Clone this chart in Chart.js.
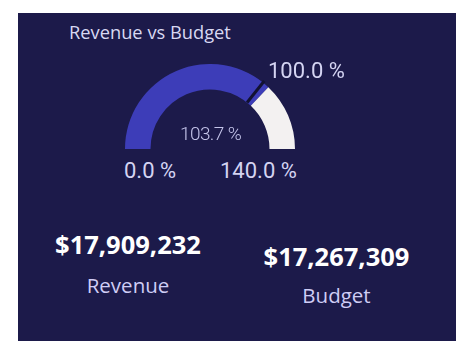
<!DOCTYPE html>
<html>
<head>
<meta charset="utf-8">
<script src="https://cdn.jsdelivr.net/npm/chart.js@4"></script>
<style>
  html, body { margin:0; padding:0; background:#ffffff; width:474px; height:355px; overflow:hidden; }
  #panel { position:absolute; left:18px; top:13px; width:438px; height:328px; background:#1c1a4a; }
  .t { position:absolute; white-space:nowrap; line-height:1; }
  #title { left:69px; top:23px; font-family:"Open Sans", sans-serif; font-size:18.3px; color:#d8d8f2; }
  .glab { font-family:Roboto, sans-serif; font-size:22px; color:#d4d4f2; }
  #gval { font-family:Roboto, sans-serif; font-weight:300; font-size:19px; color:#c4c4ea; letter-spacing:-0.6px; }
  .kv { font-family:"Open Sans", sans-serif; font-weight:700; font-size:25.5px; color:#ffffff; transform:translateX(-50%); }
  .kl { font-family:"Open Sans", sans-serif; font-size:20.5px; color:#cfcdf5; transform:translateX(-50%); }
  #gauge { position:absolute; left:124.5px; top:64px; }
</style>
</head>
<body>
<div id="panel"></div>
<div class="t" id="title">Revenue vs Budget</div>
<canvas id="gauge" width="170" height="85"></canvas>
<div class="t glab" id="lmin"></div>
<div class="t glab" id="lmax"></div>
<div class="t glab" id="ltarget"></div>
<div class="t" id="gval"></div>
<div class="t kv" id="kv0"></div>
<div class="t kl" id="kl0"></div>
<div class="t kv" id="kv1"></div>
<div class="t kl" id="kl1"></div>
<script>
const gaugeMin = [0];
const gaugeMax = [140];
const gaugeValue = [103.7];
const gaugeTarget = [100];
const kpiLabels = ['Revenue', 'Budget'];
const kpiValues = [17909232, 17267309];

const pct = v => v.toFixed(1) + ' %';
const money = v => '$' + v.toLocaleString('en-US');

function place(id, text, left, top) {
  const el = document.getElementById(id);
  el.textContent = text;
  el.style.left = left + 'px';
  el.style.top = top + 'px';
}
place('lmin', pct(gaugeMin[0]), 124, 159.5);
place('lmax', pct(gaugeMax[0]), 220, 159.5);
place('ltarget', pct(gaugeTarget[0]), 268, 59.5);
place('gval', pct(gaugeValue[0]), 180, 123.5);
place('kv0', money(kpiValues[0]), 128, 232);
place('kl0', kpiLabels[0], 128, 275);
place('kv1', money(kpiValues[1]), 336.5, 243.5);
place('kl1', kpiLabels[1], 336.5, 285);

const targetMarker = {
  id: 'targetMarker',
  afterDatasetsDraw(chart) {
    const arc = chart.getDatasetMeta(0).data[0];
    if (!arc) return;
    const {x, y, innerRadius, outerRadius} = arc.getProps(['x','y','innerRadius','outerRadius'], true);
    const frac = (gaugeTarget[0] - gaugeMin[0]) / (gaugeMax[0] - gaugeMin[0]);
    const a = -Math.PI + frac * Math.PI;
    const ctx = chart.ctx;
    ctx.save();
    ctx.strokeStyle = '#121232';
    ctx.lineWidth = 3;
    ctx.beginPath();
    ctx.moveTo(x + Math.cos(a) * innerRadius, y + Math.sin(a) * innerRadius);
    ctx.lineTo(x + Math.cos(a) * (outerRadius + 2), y + Math.sin(a) * (outerRadius + 2));
    ctx.stroke();
    ctx.restore();
  }
};

new Chart(document.getElementById('gauge'), {
  type: 'doughnut',
  data: {
    labels: ['Value', 'Remaining'],
    datasets: [{
      data: [gaugeValue[0] - gaugeMin[0], gaugeMax[0] - gaugeValue[0]],
      backgroundColor: ['#3d3db8', '#f3f1f1'],
      borderWidth: 0,
      hoverOffset: 0,
      offset: 0
    }]
  },
  options: {
    responsive: false,
    animation: false,
    rotation: -90,
    circumference: 180,
    cutout: '70%',
    layout: { padding: 0 },
    plugins: { legend: { display: false }, tooltip: { enabled: false } },
    events: []
  },
  plugins: [targetMarker]
});
</script>
</body>
</html>
